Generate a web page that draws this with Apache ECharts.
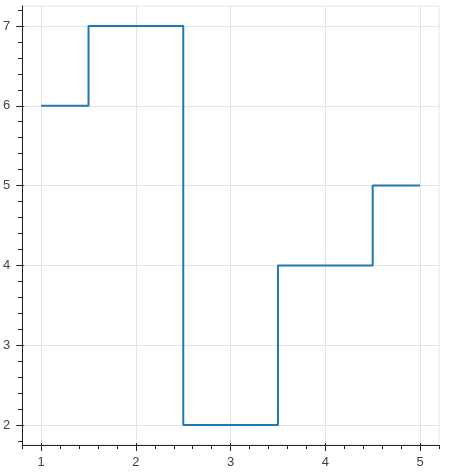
<!DOCTYPE html>
<html>
<head>
<meta charset="utf-8">
<script src="https://cdn.jsdelivr.net/npm/echarts@6/dist/echarts.min.js"></script>
<style>html,body{margin:0;padding:0;background:#fff}#c{width:474px;height:474px}</style>
</head>
<body>
<div id="c"></div>
<script>
const xValues = [1, 2, 3, 4, 5];
const yValues = [6, 7, 2, 4, 5];
const xTicks = [1, 2, 3, 4, 5];
const yTicks = [2, 3, 4, 5, 6, 7];

function minors(majors, lo, hi) {
  const out = [];
  const step = (majors[1] - majors[0]) / 5;
  const start = majors[0] - Math.floor((majors[0] - lo) / step + 1e-9) * step;
  for (let v = start; v <= hi + 1e-9; v += step) {
    const r = Math.round(v * 1000) / 1000;
    if (!majors.some(m => Math.abs(m - r) < 1e-6)) out.push(r);
  }
  return out;
}

const xMin = 0.8, xMax = 5.2, yMin = 1.75, yMax = 7.25;
const lineCol = '#222';
const labelStyle = { color: '#444', fontSize: 13, fontFamily: 'Liberation Sans, Arial, sans-serif' };

function tickAxis(min, max, pos, values, len, inside) {
  return {
    type: 'value', min: min, max: max, position: pos,
    axisLine: { show: false },
    axisTick: { show: true, inside: !!inside, customValues: values, length: len, lineStyle: { color: lineCol, width: 1 } },
    axisLabel: { show: false },
    splitLine: { show: false }
  };
}

const chart = echarts.init(document.getElementById('c'), null, { renderer: 'canvas' });
chart.setOption({
  animation: false,
  grid: { left: 22, right: 35, top: 6, bottom: 29, show: true, borderColor: '#e5e5e5', borderWidth: 1 },
  xAxis: [
    {
      type: 'value', min: xMin, max: xMax, position: 'bottom',
      axisLine: { show: true, lineStyle: { color: lineCol, width: 1 } },
      axisTick: { show: true, customValues: xTicks, length: 6, lineStyle: { color: lineCol, width: 1 } },
      axisLabel: Object.assign({ customValues: xTicks, margin: 11 }, labelStyle),
      splitLine: { show: true, lineStyle: { color: '#e5e5e5', width: 1 } }
    },
    tickAxis(xMin, xMax, 'bottom', minors(xTicks, xMin, xMax), 4, false),
    tickAxis(xMin, xMax, 'bottom', xTicks, 2, true)
  ],
  yAxis: [
    {
      type: 'value', min: yMin, max: yMax, position: 'left',
      axisLine: { show: true, lineStyle: { color: lineCol, width: 1 } },
      axisTick: { show: true, customValues: yTicks, length: 6, lineStyle: { color: lineCol, width: 1 } },
      axisLabel: Object.assign({ customValues: yTicks, margin: 12 }, labelStyle),
      splitLine: { show: true, lineStyle: { color: '#e5e5e5', width: 1 } }
    },
    tickAxis(yMin, yMax, 'left', minors(yTicks, yMin, yMax), 4, false),
    tickAxis(yMin, yMax, 'left', yTicks, 2, true)
  ],
  series: [{
    type: 'line',
    step: 'middle',
    xAxisIndex: 0, yAxisIndex: 0,
    data: xValues.map((x, i) => [x, yValues[i]]),
    showSymbol: false,
    symbol: 'none',
    lineStyle: { color: '#1f77b4', width: 2 }
  }]
});
</script>
</body>
</html>
